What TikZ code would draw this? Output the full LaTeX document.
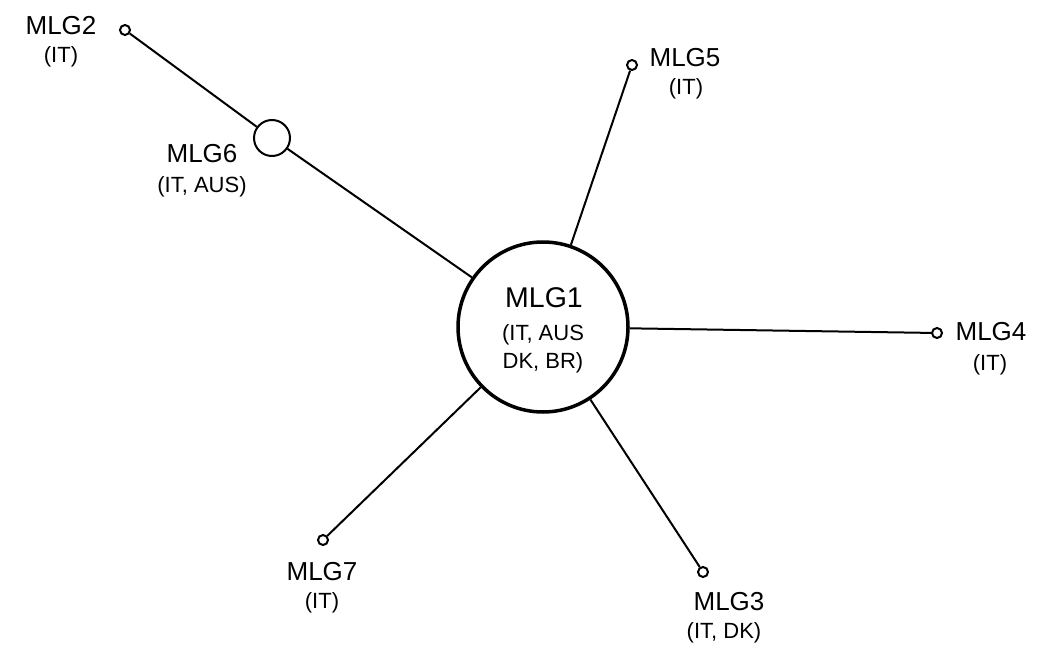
\documentclass[tikz,border=0pt]{standalone}
\usepackage{fontspec}
\setmainfont{Liberation Sans}
\begin{document}
\begin{tikzpicture}[x=1pt,y=-1pt,
  small/.style={circle,draw,line width=2pt,inner sep=0pt,minimum size=10pt},
  mid/.style={circle,draw,line width=2pt,inner sep=0pt,minimum size=36pt},
  big/.style={circle,draw,line width=3.5pt,inner sep=0pt,minimum size=170pt},
  edge/.style={line width=2pt},
  lab/.style={anchor=base,inner sep=0pt,font=\fontsize{26}{30}\selectfont},
  biglab/.style={anchor=base,inner sep=0pt,font=\fontsize{28.5}{32}\selectfont},
  sub/.style={anchor=base,inner sep=0pt,font=\fontsize{22}{26}\selectfont}]
\useasboundingbox (0,0) rectangle (1059,655);
\node[big] (n1) at (543,327) {};
\node[mid] (n6) at (272,138) {};
\node[small] (n2) at (125,30) {};
\node[small] (n5) at (632,65) {};
\node[small] (n4) at (937,333) {};
\node[small] (n7) at (323,540) {};
\node[small] (n3) at (703,572) {};
\draw[edge] (n2) -- (n6);
\draw[edge] (n6) -- (n1);
\draw[edge] (n1) -- (n5);
\draw[edge] (n1) -- (n4);
\draw[edge] (n1) -- (n7);
\draw[edge] (n1) -- (n3);
\node[biglab] (t1) at (544,307) {MLG1};
\node[sub] (t1a) at (543,340) {(IT, AUS};
\node[sub] (t1b) at (543,368) {DK, BR)};
\node[lab] (t2) at (61,35) {MLG2};
\node[sub] (t2a) at (61,63) {(IT)};
\node[lab] (t6) at (202,163) {MLG6};
\node[sub] (t6a) at (202,193) {(IT, AUS)};
\node[lab] (t5) at (685,67) {MLG5};
\node[sub] (t5a) at (686,95) {(IT)};
\node[lab] (t4) at (991,340) {MLG4};
\node[sub] (t4a) at (990,370) {(IT)};
\node[lab] (t7) at (322,580) {MLG7};
\node[sub] (t7a) at (322,608) {(IT)};
\node[lab] (t3) at (729,610) {MLG3};
\node[sub] (t3a) at (724,638) {(IT, DK)};
\end{tikzpicture}
\end{document}
